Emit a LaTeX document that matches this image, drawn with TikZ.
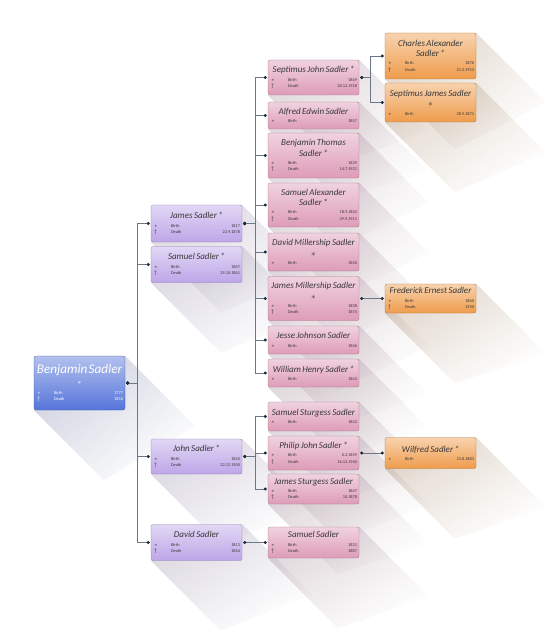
\documentclass[tikz,border=0pt]{standalone}
\usepackage{fontspec}
\setmainfont{Carlito}
\usepackage{tikz}
\usetikzlibrary{arrows.meta, positioning, backgrounds, fadings}
\definecolor{RootBlue}{HTML}{5675DA}
\definecolor{GenLilac}{HTML}{BEA6E8}
\definecolor{GenRose}{HTML}{DE9CB8}
\definecolor{GenAmber}{HTML}{EF9C4C}
\definecolor{EdgeGrey}{HTML}{6A7888}
\definecolor{DotInk}{HTML}{1E2B3A}
\definecolor{TxtGrey}{HTML}{3A3838}
\tikzfading[name=longfade, top color=transparent!45, bottom color=transparent!100]

\newcommand{\ptitle}[1]{{\fontsize{9}{10.5}\selectfont\itshape #1\par}\vspace{2pt}}
\newcommand{\prow}[3]{\par\noindent\makebox[\hsize][l]{\hspace{1pt}\makebox[17pt][l]{\fontsize{5.5}{6}\selectfont#1}#2\hfill#3}}
\newcommand{\bsym}{$\ast$}

\begin{document}
\begin{tikzpicture}[
        x=1pt, y=-1pt,
        person/.style={rounded corners=2pt, text width=87pt, inner xsep=2pt, inner ysep=2pt,
                       align=center, font=\fontsize{4.3}{6.3}\selectfont, text=TxtGrey,
                       draw=#1!75!black, line width=0.3pt,
                       top color=#1!45!white, bottom color=#1},
        rootbox/.style={person=RootBlue, text=white},
        lilacbox/.style={person=GenLilac},
        rosebox/.style={person=GenRose},
        amberbox/.style={person=GenAmber},
        link/.style={EdgeGrey, line width=0.6pt,
                     {Circle[length=3pt, color=DotInk]}-{Circle[length=3pt, color=DotInk]},
                     shorten <=1pt, shorten >=1pt},
        longshadow/.style={fill=#1!55!black, opacity=0.42, path fading=longfade, fading angle=45},
      ]
        \useasboundingbox (0,0) rectangle (554,639);
        % root
        \node[rootbox, minimum height=54] (benjamin) at (79.5,383)
          {{\fontsize{13.2}{14}\selectfont\itshape Benjamin Sadler\par}{\fontsize{7}{11}\selectfont\bsym\par}\vspace{3pt}%
           \prow{\bsym}{Birth}{1777}\prow{\textdagger}{Death}{1850}};
        % children
        \node[lilacbox, minimum height=37] (james) at (196.5,223.5)
          {\ptitle{James Sadler *}\prow{\bsym}{Birth}{1817}\prow{\textdagger}{Death}{22.9.1878}};
        \node[lilacbox, minimum height=36] (samuel) at (196.5,264.5)
          {\ptitle{Samuel Sadler *}\prow{\bsym}{Birth}{1807}\prow{\textdagger}{Death}{29.10.1861}};
        \node[lilacbox, minimum height=35] (john) at (196.5,456.5)
          {\ptitle{John Sadler *}\prow{\bsym}{Birth}{1820}\prow{\textdagger}{Death}{22.12.1900}};
        \node[lilacbox, minimum height=36] (david) at (196.5,542.5)
          {\ptitle{David Sadler}\prow{\bsym}{Birth}{1813}\prow{\textdagger}{Death}{1864}};
        % grandchildren of James
        \node[rosebox, minimum height=35] (septjohn) at (313.5,77.5)
          {\ptitle{Septimus John Sadler *}\prow{\bsym}{Birth}{1849}\prow{\textdagger}{Death}{28.12.1918}};
        \node[rosebox, minimum height=27] (alfred) at (313.5,115.5)
          {\ptitle{Alfred Edwin Sadler}\prow{\bsym}{Birth}{1857}};
        \node[rosebox, minimum height=45] (benthomas) at (313.5,155.5)
          {\ptitle{Benjamin Thomas\\Sadler *}\prow{\bsym}{Birth}{1839}\prow{\textdagger}{Death}{14.7.1921}};
        \node[rosebox, minimum height=44] (samalex) at (313.5,205)
          {\ptitle{Samuel Alexander\\Sadler *}\prow{\bsym}{Birth}{18.9.1842}\prow{\textdagger}{Death}{29.9.1911}};
        \node[rosebox, minimum height=38] (davidmill) at (313.5,252)
          {\ptitle{David Millership Sadler\\\bsym}\prow{\bsym}{Birth}{1850}};
        \node[rosebox, minimum height=44] (jamesmill) at (313.5,298.5)
          {\ptitle{James Millership Sadler\\\bsym}\prow{\bsym}{Birth}{1838}\prow{\textdagger}{Death}{1874}};
        \node[rosebox, minimum height=28] (jesse) at (313.5,340)
          {\ptitle{Jesse Johnson Sadler}\prow{\bsym}{Birth}{1846}};
        \node[rosebox, minimum height=28] (william) at (313.5,373)
          {\ptitle{William Henry Sadler *}\prow{\bsym}{Birth}{1843}};
        % grandchildren of John
        \node[rosebox, minimum height=29] (samsturg) at (313.5,416.5)
          {\ptitle{Samuel Sturgess Sadler}\prow{\bsym}{Birth}{1843}};
        \node[rosebox, minimum height=34] (philip) at (313.5,453)
          {\ptitle{Philip John Sadler *}\prow{\bsym}{Birth}{6.3.1859}\prow{\textdagger}{Death}{16.12.1940}};
        \node[rosebox, minimum height=30] (jamessturg) at (313.5,489)
          {\ptitle{James Sturgess Sadler}\prow{\bsym}{Birth}{1847}\prow{\textdagger}{Death}{10.1878}};
        % grandchild of David
        \node[rosebox, minimum height=31] (samjun) at (313.5,542.5)
          {\ptitle{Samuel Sadler}\prow{\bsym}{Birth}{1831}\prow{\textdagger}{Death}{1887}};
        % great-grandchildren
        \node[amberbox, minimum height=46] (charles) at (430.5,56)
          {\ptitle{Charles Alexander\\Sadler *}\prow{\bsym}{Birth}{1876}\prow{\textdagger}{Death}{21.2.1953}};
        \node[amberbox, minimum height=39] (septjames) at (430.5,102.5)
          {\ptitle{Septimus James Sadler\\\bsym}\prow{\bsym}{Birth}{28.9.1871}};
        \node[amberbox, minimum height=29] (frederick) at (430.5,298.5)
          {\ptitle{Frederick Ernest Sadler}\prow{\bsym}{Birth}{1860}\prow{\textdagger}{Death}{1930}};
        \node[amberbox, minimum height=31] (wilfred) at (430.5,453)
          {\ptitle{Wilfred Sadler *}\prow{\bsym}{Birth}{23.8.1883}};

        % connectors
        \foreach \c in {james, samuel, john, david}
          \draw[link] (benjamin.east) -- ++(12.5,0) |- (\c.west);
        \foreach \c in {septjohn, alfred, benthomas, samalex, davidmill, jamesmill, jesse, william}
          \draw[link] (james.east) -- ++(13,0) |- (\c.west);
        \foreach \c in {samsturg, philip, jamessturg}
          \draw[link] (john.east) -- ++(13,0) |- (\c.west);
        \draw[link] (david.east) -- (samjun.west);
        \foreach \c in {charles, septjames}
          \draw[link] (septjohn.east) -- ++(11,0) |- (\c.west);
        \draw[link] (jamesmill.east) -- (frederick.west);
        \draw[link] (philip.east) -- (wilfred.west);

        % long shadows
        \begin{scope}[on background layer]
          \foreach \p/\s in {benjamin/RootBlue, james/GenLilac, samuel/GenLilac, john/GenLilac, david/GenLilac,
                             septjohn/GenRose, alfred/GenRose, benthomas/GenRose, samalex/GenRose,
                             davidmill/GenRose, jamesmill/GenRose, jesse/GenRose, william/GenRose,
                             samsturg/GenRose, philip/GenRose, jamessturg/GenRose, samjun/GenRose,
                             charles/GenAmber, septjames/GenAmber, frederick/GenAmber, wilfred/GenAmber}
            \fill[longshadow=\s] (\p.north east) -- ++(70,70) -- ([shift={(70,70)}]\p.south west)
              -- (\p.south west) -- cycle;
        \end{scope}
      \end{tikzpicture}
\end{document}
